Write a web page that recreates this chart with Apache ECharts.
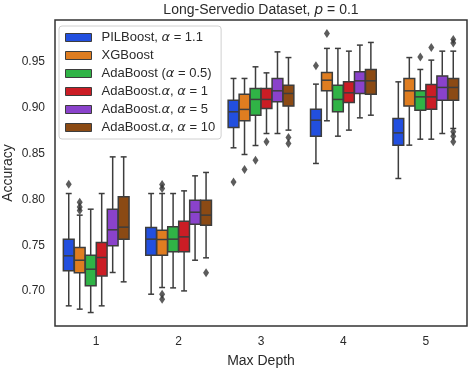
<!DOCTYPE html>
<html>
<head>
<meta charset="utf-8">
<script src="https://cdn.jsdelivr.net/npm/echarts@6/dist/echarts.min.js"></script>
<style>html,body{margin:0;padding:0;background:#fff}#c{width:474px;height:368px}</style>
</head>
<body>
<div id="c"></div>
<script>
// ---- data ----
const categories = ['1', '2', '3', '4', '5'];
const yTicks = [0.70, 0.75, 0.80, 0.85, 0.90, 0.95];
const seriesNames = ['PILBoost, α = 1.1', 'XGBoost', 'AdaBoost (α = 0.5)', 'AdaBoost.α, α = 1', 'AdaBoost.α, α = 5', 'AdaBoost.α, α = 10'];
// [min, Q1, median, Q3, max] per max depth
const pilBoost = [
  [0.684, 0.7222, 0.7386, 0.7568, 0.8066],
  [0.6967, 0.7393, 0.7568, 0.7695, 0.8066],
  [0.8565, 0.8787, 0.8958, 0.9085, 0.9322],
  [0.8394, 0.8692, 0.8867, 0.8987, 0.926],
  [0.823, 0.8594, 0.8728, 0.8885, 0.9285]
];
const xgBoost = [
  [0.6804, 0.720, 0.7338, 0.7477, 0.783],
  [0.704, 0.7393, 0.7564, 0.7666, 0.8066],
  [0.8492, 0.886, 0.8984, 0.915, 0.9322],
  [0.886, 0.9187, 0.9303, 0.9387, 0.965],
  [0.8594, 0.902, 0.9187, 0.9322, 0.955]
];
const adaBoost = [
  [0.6767, 0.7058, 0.724, 0.7393, 0.7895],
  [0.7036, 0.743, 0.7568, 0.7702, 0.8066],
  [0.859, 0.8921, 0.9093, 0.9213, 0.9449],
  [0.8692, 0.8958, 0.9093, 0.9249, 0.965],
  [0.8659, 0.8976, 0.9121, 0.9187, 0.942]
];
const adaAlpha1 = [
  [0.684, 0.7167, 0.7368, 0.7531, 0.8066],
  [0.7003, 0.743, 0.7593, 0.7764, 0.8095],
  [0.8721, 0.8994, 0.9093, 0.9213, 0.9383],
  [0.8758, 0.906, 0.9165, 0.9285, 0.962],
  [0.8659, 0.8987, 0.9121, 0.9257, 0.9522]
];
const adaAlpha5 = [
  [0.7204, 0.7495, 0.767, 0.7895, 0.8466],
  [0.7338, 0.7731, 0.7862, 0.7993, 0.8259],
  [0.8721, 0.9067, 0.9187, 0.9322, 0.9612],
  [0.8892, 0.9158, 0.9296, 0.9394, 0.9686],
  [0.8721, 0.9085, 0.9224, 0.935, 0.962]
];
const adaAlpha10 = [
  [0.7102, 0.7568, 0.7699, 0.803, 0.8466],
  [0.7364, 0.772, 0.783, 0.7993, 0.8296],
  [0.8758, 0.902, 0.9158, 0.9249, 0.955],
  [0.8921, 0.915, 0.9296, 0.942, 0.9715],
  [0.8776, 0.9085, 0.9224, 0.9322, 0.962]
];
// outliers: [category index, value]
const pilBoostOut = [[0, 0.8168], [2, 0.8193], [3, 0.946]];
const xgBoostOut = [[0, 0.797], [0, 0.792], [0, 0.788], [1, 0.8165], [1, 0.812], [1, 0.6967], [1, 0.6913], [2, 0.8328], [3, 0.9813]];
const adaBoostOut = [[2, 0.843], [4, 0.9557]];
const adaAlpha1Out = [[2, 0.863], [4, 0.966]];
const adaAlpha5Out = [];
const adaAlpha10Out = [[1, 0.72], [2, 0.8678], [2, 0.8612], [4, 0.9748], [4, 0.971], [4, 0.874], [4, 0.8692], [4, 0.863]];

// ---- styling ----
const colors = ['#224fdf', '#df7d20', '#30b346', '#cb1d25', '#8a42cb', '#8b4a14'];
const boxData = [pilBoost, xgBoost, adaBoost, adaAlpha1, adaAlpha5, adaAlpha10];
const outData = [pilBoostOut, xgBoostOut, adaBoostOut, adaAlpha1Out, adaAlpha5Out, adaAlpha10Out];
const edge = '#3d3d3d';
const textColor = '#2a2a2a';
const gridLeft = 55, gridRight = 7, gridTop = 20, gridBottom = 42;
const nS = boxData.length;
const groupFrac = 0.8;           // fraction of category band used by a group
const boxFrac = groupFrac / nS;  // band fraction per box
const capFrac = 0.55;            // cap width relative to box width

function offsetFrac(k) { return -groupFrac / 2 + boxFrac * (k + 0.5); }

function richName(name) {
  return '{n|' + name.split('α').join('}{i|α}{n|') + '}';
}

const series = [];
boxData.forEach((d, k) => {
  series.push({
    name: seriesNames[k],
    type: 'custom',
    data: d.map((v, i) => [i].concat(v)),
    encode: { x: 0, y: [1, 2, 3, 4, 5] },
    itemStyle: { color: colors[k], borderColor: edge, borderWidth: 1.5 },
    z: 3,
    renderItem: function (params, api) {
      const i = api.value(0);
      const band = api.size([1, 0])[0];
      const cx = api.coord([i, 0])[0] + offsetFrac(k) * band;
      const bw = boxFrac * band * 0.98;
      const cw = bw * capFrac;
      const yMin = api.coord([i, api.value(1)])[1];
      const yQ1 = api.coord([i, api.value(2)])[1];
      const yMed = api.coord([i, api.value(3)])[1];
      const yQ3 = api.coord([i, api.value(4)])[1];
      const yMax = api.coord([i, api.value(5)])[1];
      const ls = { stroke: edge, lineWidth: 1.5 };
      return {
        type: 'group',
        children: [
          { type: 'line', shape: { x1: cx, y1: yQ3, x2: cx, y2: yMax }, style: ls },
          { type: 'line', shape: { x1: cx, y1: yQ1, x2: cx, y2: yMin }, style: ls },
          { type: 'line', shape: { x1: cx - cw / 2, y1: yMax, x2: cx + cw / 2, y2: yMax }, style: ls },
          { type: 'line', shape: { x1: cx - cw / 2, y1: yMin, x2: cx + cw / 2, y2: yMin }, style: ls },
          { type: 'rect', shape: { x: cx - bw / 2, y: yQ3, width: bw, height: yQ1 - yQ3 }, style: { fill: colors[k], stroke: edge, lineWidth: 1.5 } },
          { type: 'line', shape: { x1: cx - bw / 2, y1: yMed, x2: cx + bw / 2, y2: yMed }, style: ls }
        ]
      };
    }
  });
});
outData.forEach((d, k) => {
  series.push({
    name: 'out' + k,
    type: 'scatter',
    xAxisIndex: 1,
    data: d.map(p => [p[0] + offsetFrac(k), p[1]]),
    symbol: 'diamond',
    symbolSize: [6, 9],
    itemStyle: { color: '#333' },
    z: 4
  });
});

const chart = echarts.init(document.getElementById('c'), null, { renderer: 'canvas' });
chart.setOption({
  animation: false,
  backgroundColor: '#fff',
  title: {
    text: '{n|Long-Servedio Dataset, }{i|p}{n| = 0.1}',
    left: 256,
    textAlign: 'center',
    top: -2,
    textStyle: {
      fontWeight: 'normal',
      rich: {
        n: { fontSize: 14, color: textColor, fontFamily: 'Liberation Sans', fontWeight: 'normal' },
        i: { fontSize: 14, color: textColor, fontFamily: 'DejaVu Sans', fontStyle: 'italic', fontWeight: 'normal' }
      }
    }
  },
  legend: {
    data: seriesNames.map((n, k) => ({ name: n, itemStyle: { color: colors[k], borderColor: edge, borderWidth: 1 } })),
    orient: 'vertical',
    left: 59,
    top: 26,
    padding: [5, 6, 5, 6],
    itemGap: 5,
    itemWidth: 26,
    itemHeight: 8,
    icon: 'rect',
    backgroundColor: 'rgba(255,255,255,0.85)',
    borderColor: '#d0d0d0',
    borderWidth: 1,
    borderRadius: 3,
    formatter: richName,
    textStyle: {
      padding: [0, 0, 0, 5],
      rich: {
        n: { fontSize: 13, color: textColor, fontFamily: 'Liberation Sans' },
        i: { fontSize: 13, color: textColor, fontFamily: 'DejaVu Sans', fontStyle: 'italic' }
      }
    }
  },
  grid: { left: gridLeft, right: gridRight, top: gridTop, bottom: gridBottom, show: true, borderColor: '#333', borderWidth: 1.5, backgroundColor: 'transparent', containLabel: false, outerBoundsMode: 'none' },
  xAxis: [{
    type: 'category',
    data: categories,
    boundaryGap: true,
    name: 'Max Depth',
    nameLocation: 'middle',
    nameGap: 28,
    nameMoveOverlap: false,
    nameTextStyle: { fontSize: 14, color: textColor, fontFamily: 'Liberation Sans' },
    axisLine: { show: false },
    axisTick: { show: false },
    axisLabel: { fontSize: 12, color: textColor, margin: 10, fontFamily: 'Liberation Sans' },
    splitLine: { show: false }
  }, {
    type: 'value',
    min: -0.5,
    max: categories.length - 0.5,
    show: false
  }],
  yAxis: {
    type: 'value',
    min: 0.662,
    max: 0.996,
    name: 'Accuracy',
    nameLocation: 'middle',
    nameRotate: 90,
    nameGap: 40,
    nameMoveOverlap: false,
    nameTextStyle: { fontSize: 14, color: textColor, fontFamily: 'Liberation Sans' },
    axisLine: { show: false },
    axisTick: { show: false },
    splitLine: { show: false },
    axisLabel: {
      customValues: yTicks,
      formatter: v => v.toFixed(2),
      fontSize: 12, color: textColor, margin: 10, fontFamily: 'Liberation Sans'
    }
  },
  series: series
});
</script>
</body>
</html>
